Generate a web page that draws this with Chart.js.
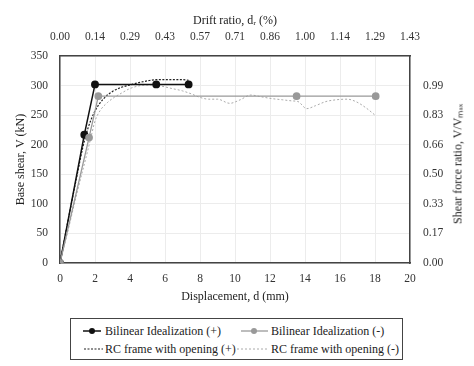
<!DOCTYPE html>
<html>
<head>
<meta charset="utf-8">
<script src="https://cdn.jsdelivr.net/npm/chart.js@4.4.0/dist/chart.umd.min.js"></script>
<style>
  body { margin: 0; background: #fff; }
  #wrap { position: relative; width: 474px; height: 366px; }
  #legend {
    position: absolute; left: 70px; top: 318px; width: 331px; height: 40px;
    border: 1.2px solid #444; font: 12px "Liberation Serif", serif; color: #222;
  }
  #legend span { position: absolute; white-space: nowrap; line-height: 14px; }
  #legend svg { position: absolute; left: 0; top: 0; }
  #rtitle {
    position: absolute; left: 457px; top: 164px; white-space: nowrap;
    font: 12px "Liberation Serif", serif; color: #222;
    transform: translate(-50%, -50%) rotate(-90deg);
  }
</style>
</head>
<body>
<div id="wrap">
  <canvas id="chart" width="474" height="310"></canvas>
  <div id="rtitle">Shear force ratio, V/Vₘₐₓ</div>
  <div id="legend">
    <svg width="331" height="40">
      <line x1="12" y1="12" x2="30" y2="12" stroke="#111" stroke-width="1.5"/>
      <circle cx="21" cy="12" r="3" fill="#111"/>
      <line x1="170" y1="12" x2="197" y2="12" stroke="#999" stroke-width="1.3"/>
      <circle cx="183" cy="12" r="3" fill="#999"/>
      <line x1="13" y1="30" x2="32" y2="30" stroke="#222" stroke-width="1.2" stroke-dasharray="2,1.5"/>
      <line x1="166" y1="30" x2="197" y2="30" stroke="#aaa" stroke-width="1" stroke-dasharray="2,2"/>
    </svg>
    <span style="left:34px; top:5px;">Bilinear Idealization (+)</span>
    <span style="left:200px; top:5px;">Bilinear Idealization (-)</span>
    <span style="left:34px; top:23px;">RC frame with opening (+)</span>
    <span style="left:200px; top:23px;">RC frame with opening (-)</span>
  </div>
</div>
<script>
// bilinear idealization (+)
const bilinPosD = [0, 1.39, 2.0, 5.5, 7.35];
const bilinPosV = [0, 217, 302, 302, 302];
// bilinear idealization (-)
const bilinNegD = [0, 1.66, 2.19, 13.52, 18.04];
const bilinNegV = [0, 212, 282, 282, 282];
// RC frame with opening (+)
const framePosD = [0, 0.5, 1.0, 1.3, 1.6, 2.0, 2.5, 3.0, 3.5, 4.0, 4.5, 5.0, 5.5, 6.0, 6.5, 7.0, 7.35];
const framePosV = [0, 78, 152, 195, 228, 257, 278, 290, 297, 301, 305, 308, 310, 310, 310, 310, 309];
// RC frame with opening (-)
const frameNegD = [0, 0.5, 1.0, 1.5, 1.75, 2.0, 2.3, 2.7, 3.1, 3.5, 4.0, 4.6, 5.2, 5.8, 6.4, 7.0, 7.5, 8.0, 8.5, 9.0,
  9.7, 10.3, 10.9, 11.5, 12.1, 12.7, 13.3, 13.6, 14.1, 14.6, 15.2, 15.8, 16.4, 16.9, 17.5, 18.0];
const frameNegV = [0, 60, 122, 180, 210, 240, 258, 271, 280, 287, 295, 300, 301, 299, 295, 291, 286, 280, 277, 277,
  270, 276, 284, 281, 278, 276, 274, 273, 261, 266, 273, 276, 277, 273, 262, 250];

const driftLabels = ["0.00", "0.14", "0.29", "0.43", "0.57", "0.71", "0.86", "1.00", "1.14", "1.29", "1.43"];
const ratioLabels = ["0.00", "0.17", "0.33", "0.50", "0.66", "0.83", "0.99"];

const pts = (xs, ys) => xs.map((x, i) => ({ x: x, y: ys[i] }));

const tickFont = { family: "'Liberation Serif', serif", size: 11.5 };
const titleFont = { family: "'Liberation Serif', serif", size: 12 };
const frame = { color: "#444", width: 1.5 };
const gridLine = { color: "#ececec", lineWidth: 1, drawTicks: false };

new Chart(document.getElementById("chart"), {
  type: "line",
  data: {
    datasets: [
      {
        label: "Bilinear Idealization (-)",
        data: pts(bilinNegD, bilinNegV),
        borderColor: "#999",
        backgroundColor: "#999",
        borderWidth: 1.3,
        pointRadius: 3.2,
        tension: 0,
        order: 0,
      },
      {
        label: "Bilinear Idealization (+)",
        data: pts(bilinPosD, bilinPosV),
        borderColor: "#111",
        backgroundColor: "#111",
        borderWidth: 1.5,
        pointRadius: 3.2,
        tension: 0,
        order: 1,
      },
      {
        label: "RC frame with opening (+)",
        data: pts(framePosD, framePosV),
        borderColor: "#222",
        borderWidth: 1.2,
        borderDash: [2, 1.5],
        pointRadius: 0,
        cubicInterpolationMode: "monotone",
        order: 2,
      },
      {
        label: "RC frame with opening (-)",
        data: pts(frameNegD, frameNegV),
        borderColor: "#aaa",
        borderWidth: 1,
        borderDash: [2, 2],
        pointRadius: 0,
        cubicInterpolationMode: "monotone",
        order: 3,
      },
    ],
  },
  options: {
    responsive: false,
    animation: false,
    devicePixelRatio: 1,
    layout: { padding: 0 },
    plugins: { legend: { display: false }, tooltip: { enabled: false } },
    scales: {
      x: {
        type: "linear",
        position: "bottom",
        min: 0,
        max: 20,
        ticks: { stepSize: 2, padding: 9, color: "#333", font: tickFont },
        grid: gridLine,
        border: frame,
        title: { display: true, text: "Displacement, d (mm)", color: "#222", font: titleFont, padding: { top: 0, bottom: 6 } },
        afterFit: (s) => { s.height = 47; },
      },
      x2: {
        type: "linear",
        position: "top",
        min: 0,
        max: 20,
        ticks: {
          stepSize: 2,
          padding: 12,
          color: "#333",
          font: tickFont,
          callback: (v, i) => driftLabels[i],
        },
        grid: { display: false, drawTicks: false },
        border: frame,
        title: { display: true, text: "Drift ratio, dᵣ (%)", color: "#222", font: titleFont, padding: { top: 14, bottom: 0 } },
        afterFit: (s) => { s.height = 56; },
      },
      y: {
        type: "linear",
        position: "left",
        min: 0,
        max: 350,
        ticks: { stepSize: 50, padding: 12, color: "#333", font: tickFont },
        grid: gridLine,
        border: frame,
        title: { display: true, text: "Base shear, V (kN)", color: "#222", font: titleFont, padding: { top: 14, bottom: 0 } },
        afterFit: (s) => { s.width = 60; },
      },
      y2: {
        type: "linear",
        position: "right",
        min: 0,
        max: 350,
        ticks: {
          stepSize: 50,
          padding: 13,
          color: "#333",
          font: tickFont,
          callback: (v, i) => (i < ratioLabels.length ? ratioLabels[i] : ""),
        },
        grid: { display: false, drawTicks: false },
        border: frame,
        afterFit: (s) => { s.width = 64; },
      },
    },
  },
});
</script>
</body>
</html>
